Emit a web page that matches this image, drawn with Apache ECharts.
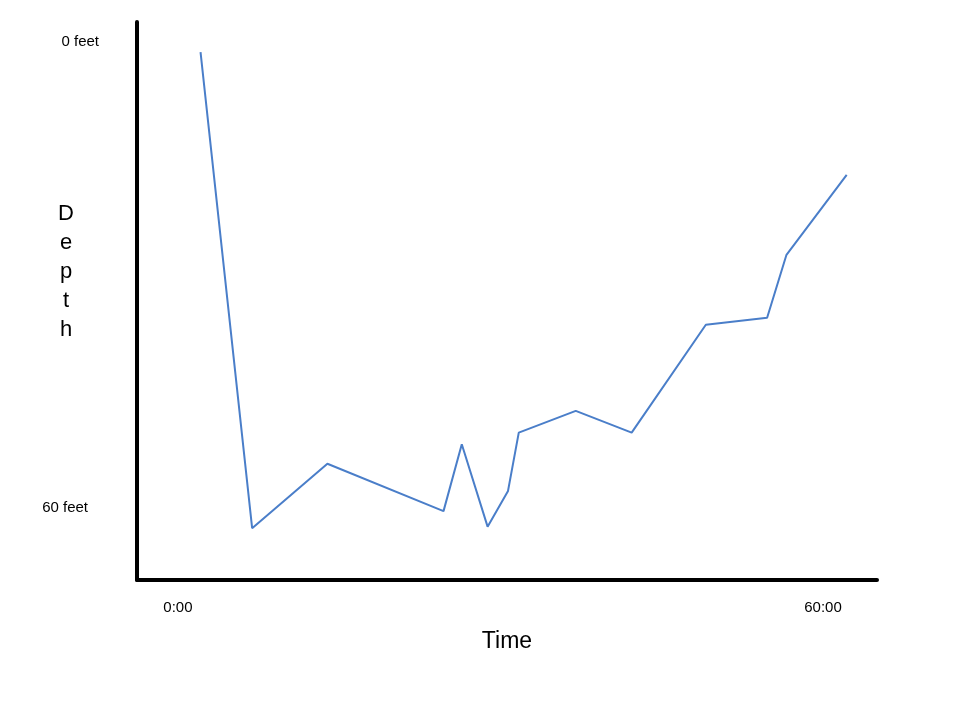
<!DOCTYPE html>
<html>
<head>
<meta charset="utf-8">
<script src="https://cdn.jsdelivr.net/npm/echarts@6/dist/echarts.min.js"></script>
<style>
  html, body { margin: 0; padding: 0; background: #fff; }
  #main { width: 960px; height: 720px; }
</style>
</head>
<body>
<div id="main"></div>
<script>
// dive profile: time in minutes, depth in feet
const minutes = [2.1, 6.9, 13.9, 24.7, 26.4, 28.8, 30.7, 31.7, 37.0, 42.2, 49.1, 54.8, 56.6, 62.2]
const depthFeet = [1.3, 62.6, 54.3, 60.4, 51.8, 62.4, 57.8, 50.3, 47.5, 50.3, 36.4, 35.5, 27.4, 17.1]
const timeTicks = [0, 60]
const timeLabels = ['0:00', '60:00']
const depthTicks = [0, 60]
const depthLabels = ['0 feet', '60 feet']

const chart = echarts.init(document.getElementById('main'))
const font = 'Liberation Sans, Arial, sans-serif'

const option = {
  animation: false,
  backgroundColor: '#fff',
  grid: { left: 137, top: 22, width: 740, height: 558 },
  xAxis: {
    type: 'value',
    min: -3.81,
    max: 65.02,
    name: 'Time',
    nameLocation: 'middle',
    nameGap: 50,
    nameTextStyle: { color: '#000', fontSize: 23, fontFamily: font },
    axisLine: { show: true, onZero: false, lineStyle: { color: '#000', width: 4 } },
    axisTick: { show: false },
    splitLine: { show: false },
    axisLabel: {
      customValues: timeTicks,
      margin: 20,
      color: '#000',
      fontSize: 15,
      fontFamily: font,
      formatter: (v) => timeLabels[timeTicks.indexOf(v)] || ''
    }
  },
  yAxis: {
    type: 'value',
    inverse: true,
    min: -2.58,
    max: 69.27,
    // trailing blank lines lift the stacked letters above the axis middle
    name: 'D\ne\np\nt\nh\n\n',
    nameLocation: 'middle',
    nameRotate: 0,
    nameGap: 71,
    nameMoveOverlap: false,
    nameTextStyle: {
      color: '#000', fontSize: 22, fontFamily: font,
      align: 'center', lineHeight: 29
    },
    axisLine: { show: true, onZero: false, lineStyle: { color: '#000', width: 4 } },
    axisTick: { show: false },
    splitLine: { show: false },
    axisLabel: {
      customValues: depthTicks,
      margin: 38,
      color: '#000',
      fontSize: 15,
      fontFamily: font,
      formatter: (v) => {
        const i = depthTicks.indexOf(v)
        return i === 0 ? '{a|' + depthLabels[0] + '}' : '{b|' + depthLabels[1] + '}'
      },
      rich: {
        a: { fontSize: 15, fontFamily: font, color: '#000' },
        b: { fontSize: 15, fontFamily: font, color: '#000', padding: [0, 11, 0, 0] }
      }
    }
  },
  series: [
    {
      name: 'Depth',
      type: 'line',
      data: minutes.map((m, i) => [m, depthFeet[i]]),
      symbol: 'none',
      lineStyle: { color: '#4a7ec9', width: 2 }
    }
  ]
}

chart.setOption(option)
</script>
</body>
</html>
